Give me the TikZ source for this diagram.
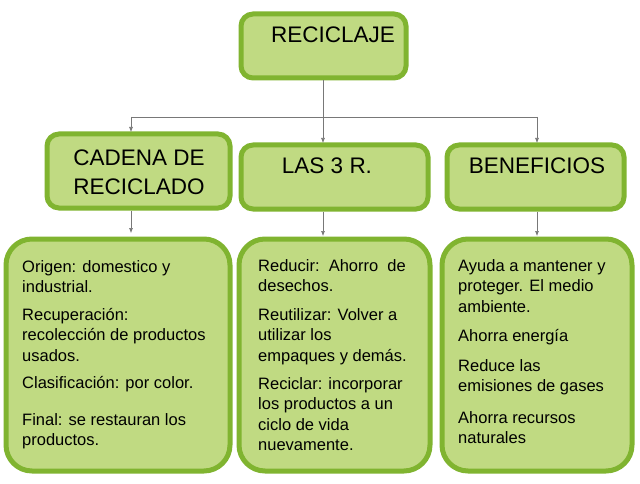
\documentclass[tikz,border=0pt]{standalone}
\usepackage{fontspec}
\setmainfont{Liberation Sans}
\usetikzlibrary{arrows.meta}
\definecolor{gfill}{RGB}{192,218,130}
\definecolor{gline}{RGB}{128,180,48}
\definecolor{conn}{RGB}{120,120,120}
\begin{document}
\begin{tikzpicture}[x=1pt,y=-1pt,
  box/.style={draw=gline,line width=5pt,fill=gfill,rounded corners=12pt},
  bigbox/.style={draw=gline,line width=5pt,fill=gfill,rounded corners=26pt},
  ttl/.style={font=\fontsize{22.5}{29}\selectfont,align=center},
  txt/.style={font=\fontsize{16.5}{20.5}\selectfont,align=left,anchor=north west,inner sep=0pt},
  con/.style={draw=conn,line width=0.6pt,-{Latex[length=5pt,width=4pt]}}]
\useasboundingbox (0,0) rectangle (640,484);
\fill[white] (0,0) rectangle (640,484);
% boxes
\draw[box] (241,14) rectangle (406,78);
\node[ttl] (t0) at (333,35) {RECICLAJE};
\draw[box] (47,134) rectangle (230,208);
\node[ttl] (t1) at (139,172) {CADENA DE\\RECICLADO};
\draw[box] (241,145) rectangle (428,209);
\node[ttl] (t2) at (327,166) {LAS 3 R.};
\draw[box] (447,145) rectangle (624,209);
\node[ttl] (t3) at (537,166) {BENEFICIOS};
\draw[bigbox] (6,239) rectangle (230,471);
\draw[bigbox] (239,239) rectangle (430,471);
\draw[bigbox] (442,239) rectangle (632,471);
% connectors
\coordinate (a0) at (323,80);
\coordinate (h) at (323,117);
\coordinate (hl) at (131,117);
\coordinate (hr) at (537,117);
\coordinate (b1) at (131,132);
\coordinate (b2) at (323,143);
\coordinate (b3) at (537,143);
\draw[draw=conn,line width=0.6pt] (a0) -- (h) (hl) -- (hr);
\draw[con] (hl) -- (b1);
\draw[con] (h) -- (b2);
\draw[con] (hr) -- (b3);
\coordinate (c1) at (131,211); \coordinate (d1) at (131,233);
\coordinate (c2) at (323,212); \coordinate (d2) at (323,236);
\coordinate (c3) at (537,212); \coordinate (d3) at (537,236);
\draw[con] (c1) -- (d1);
\draw[con] (c2) -- (d2);
\draw[con] (c3) -- (d3);
% texts left
\node[txt] (l1) at (22,260) {Origen: domestico y\\industrial.};
\node[txt] (l2) at (22,308) {Recuperación:\\recolección de productos\\usados.};
\node[txt] (l3) at (22,376) {Clasificación: por color.};
\node[txt] (l4) at (22,413) {Final: se restauran los\\productos.};
% middle
\node[txt] (m1) at (258,259) {Reducir:\ \ Ahorro\ \ de\\desechos.};
\node[txt] (m2) at (258,308) {Reutilizar: Volver a\\utilizar los\\empaques y demás.};
\node[txt] (m3) at (258,377) {Reciclar: incorporar\\los productos a un\\ciclo de vida\\nuevamente.};
% right
\node[txt] (r1) at (458,259) {Ayuda a mantener y\\proteger. El medio\\ambiente.};
\node[txt] (r2) at (458,329) {Ahorra energía};
\node[txt] (r3) at (458,359) {Reduce las\\emisiones de gases};
\node[txt] (r4) at (458,411) {Ahorra recursos\\naturales};
\end{tikzpicture}
\end{document}
